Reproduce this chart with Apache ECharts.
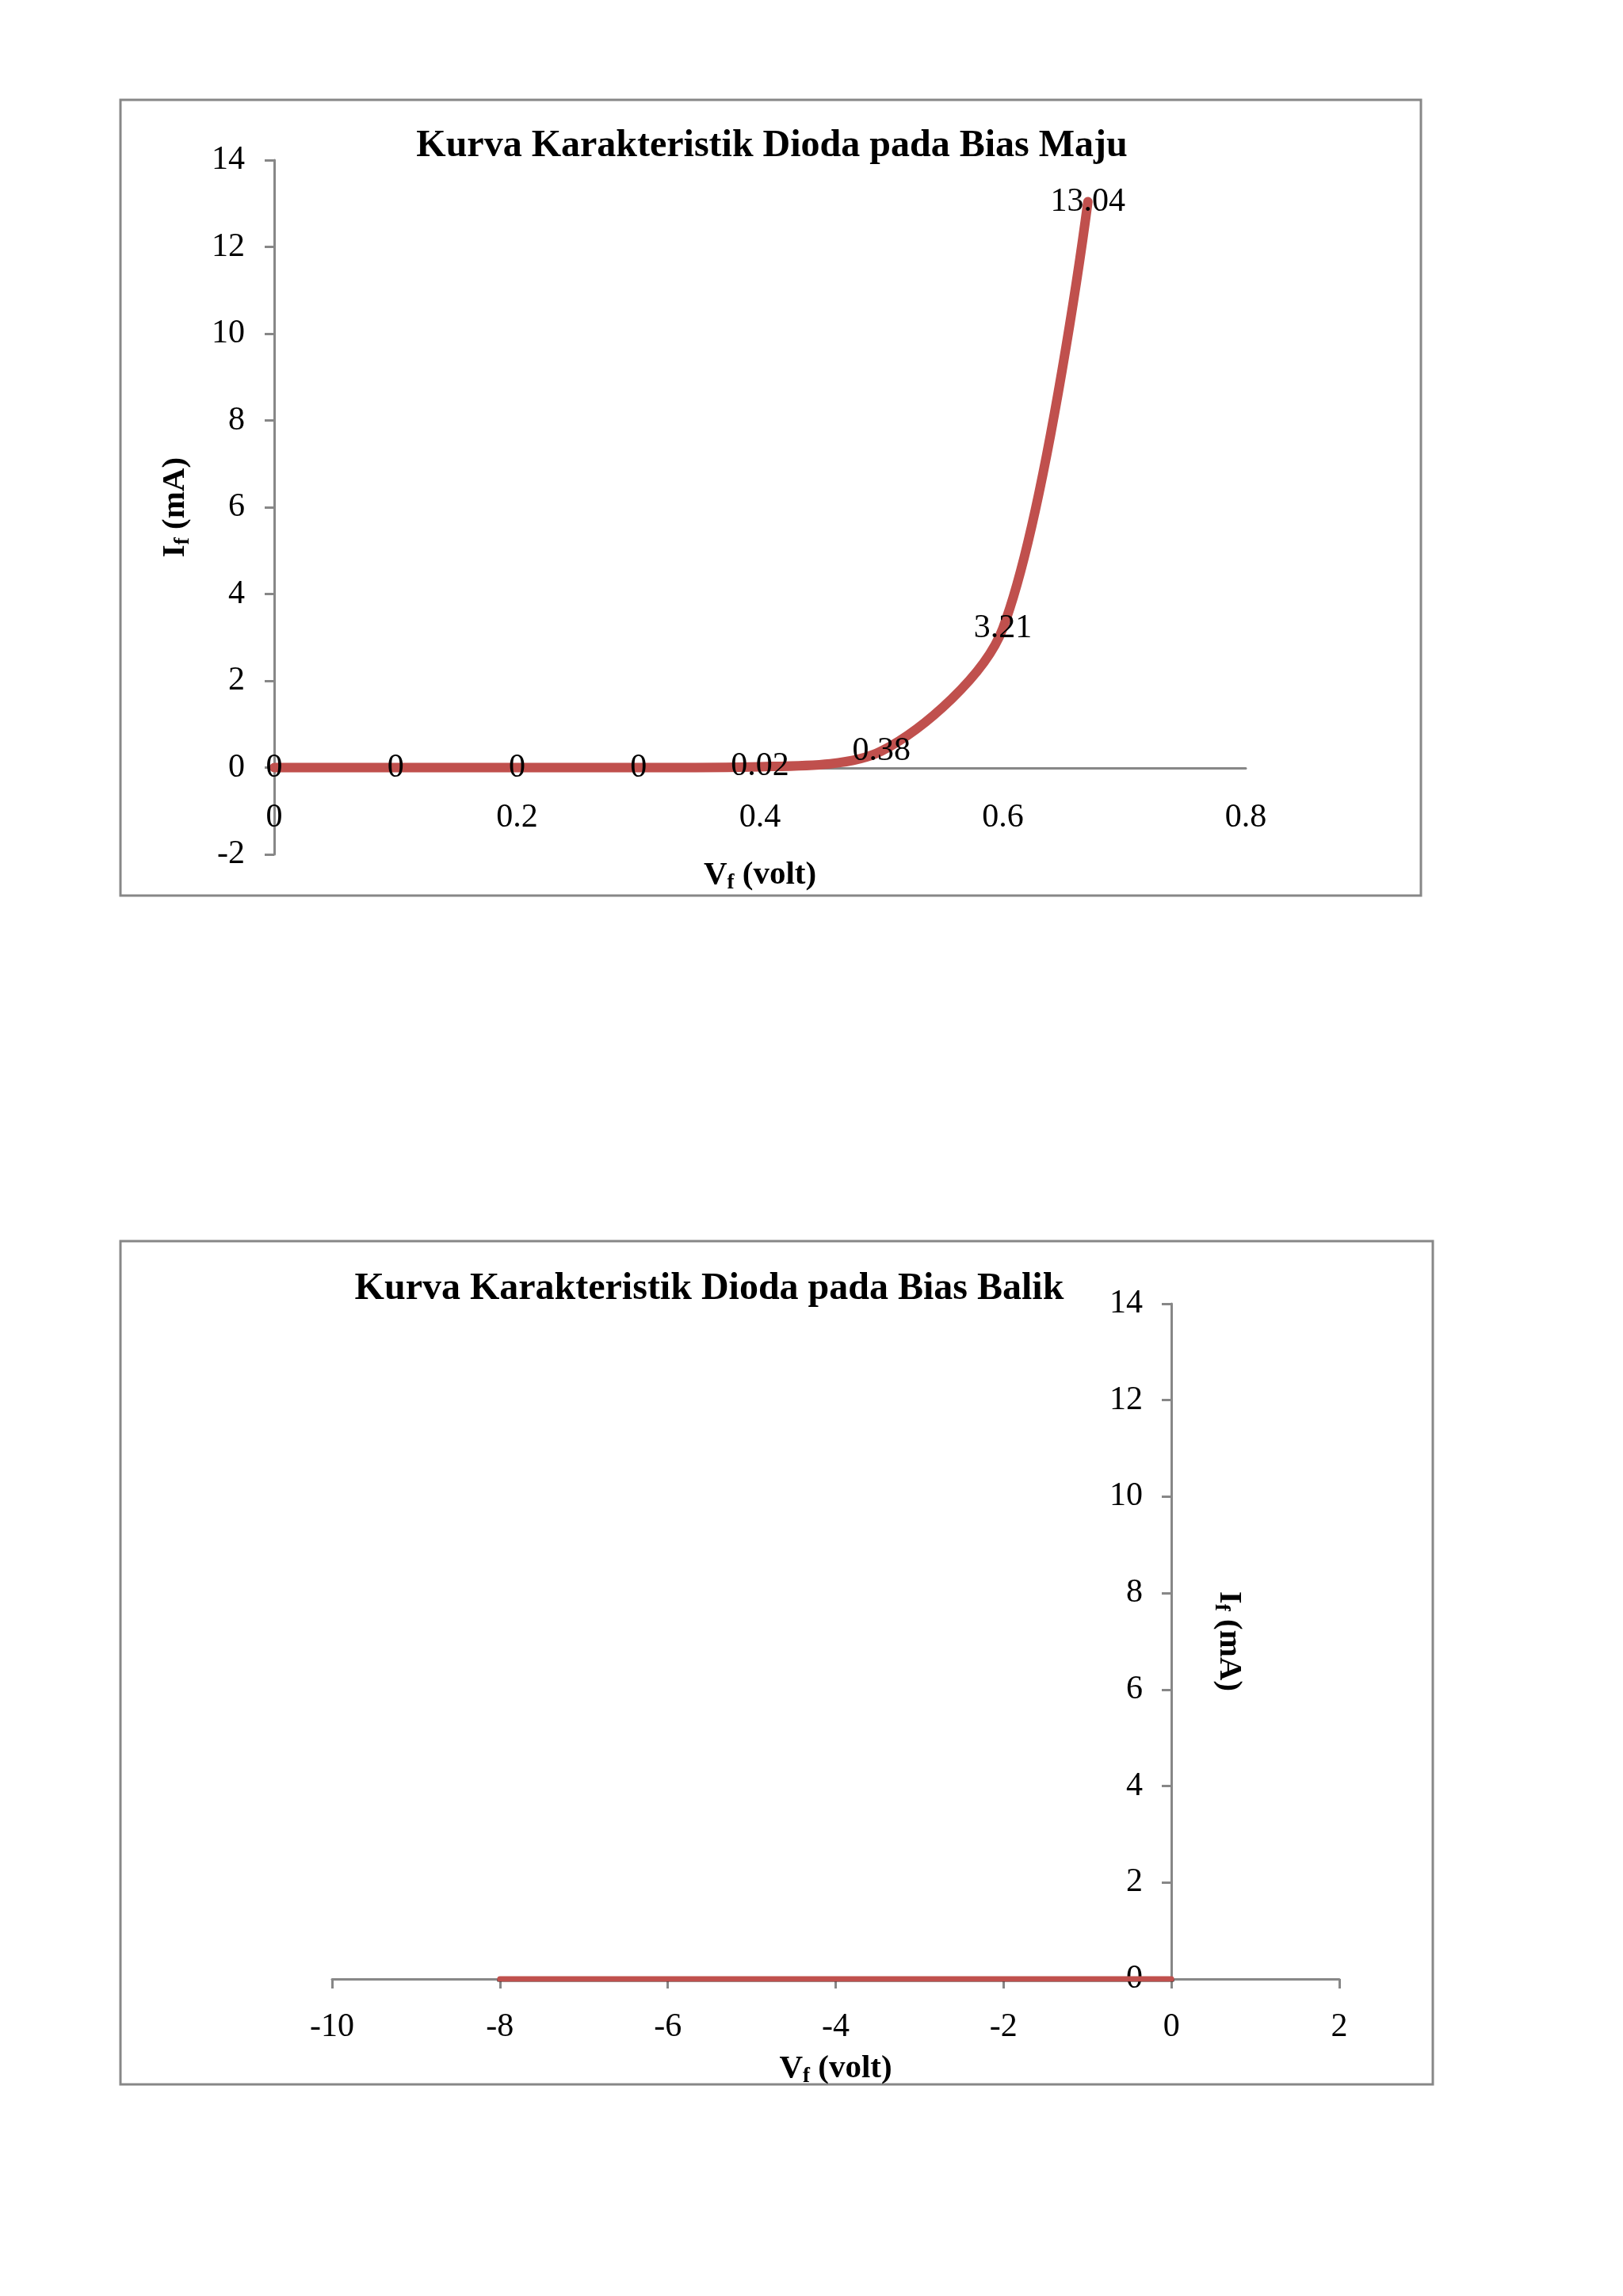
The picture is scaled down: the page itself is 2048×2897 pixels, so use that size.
<!DOCTYPE html>
<html>
<head>
<meta charset="utf-8">
<script src="https://cdn.jsdelivr.net/npm/echarts@6/dist/echarts.min.js"></script>
<style>
  html, body { margin: 0; padding: 0; background: #fff; }
  #chart { width: 2048px; height: 2897px; }
</style>
</head>
<body>
<div id="chart"></div>
<script>
// bias maju (forward)
var majuV = [0, 0.1, 0.2, 0.3, 0.4, 0.5, 0.6, 0.67]
var majuI = [0, 0, 0, 0, 0.02, 0.38, 3.21, 13.04]
// bias balik (reverse)
var balikV = [-8, -6, -4, -2, 0]
var balikI = [0, 0, 0, 0, 0]

var titles = ['Kurva Karakteristik Dioda pada Bias Maju', 'Kurva Karakteristik Dioda pada Bias Balik']

var FONT = '"Liberation Serif", "Times New Roman", serif'
var RED = '#C0504D'
var GRAY = '#878787'

var nameRich = {
  m: { fontFamily: FONT, fontSize: 41, fontWeight: 'bold', color: '#000' },
  s: { fontFamily: FONT, fontSize: 27, fontWeight: 'bold', color: '#000', padding: [20, 0, 0, 0] }
}

function toPairs (xs, ys) {
  return xs.map(function (x, i) { return [x, ys[i]] })
}

var axisText = { fontFamily: FONT, fontSize: 42, color: '#000' }

var option = {
  backgroundColor: '#fff',
  animation: false,
  title: [
    { text: titles[0], left: 974, top: 161, textAlign: 'center', padding: 0,
      textStyle: { fontFamily: FONT, fontSize: 48, fontWeight: 'bold', color: '#000' } },
    { text: titles[1], left: 895, top: 1603, textAlign: 'center', padding: 0,
      textStyle: { fontFamily: FONT, fontSize: 48, fontWeight: 'bold', color: '#000' } }
  ],
  graphic: [
    { type: 'rect', shape: { x: 152, y: 126, width: 1641, height: 1004 },
      style: { fill: 'none', stroke: GRAY, lineWidth: 3 }, z: -1 },
    { type: 'rect', shape: { x: 152, y: 1566, width: 1656, height: 1064 },
      style: { fill: 'none', stroke: GRAY, lineWidth: 3 }, z: -1 }
  ],
  grid: [
    { left: 346, right: 476, top: 202, bottom: 1819 },
    { left: 419, right: 358, top: 1645, bottom: 400 }
  ],
  xAxis: [
    {
      // axis line sits at I = 0, i.e. 109px above the grid bottom (I = -2)
      gridIndex: 0, type: 'value', min: 0, max: 0.8, interval: 0.2,
      position: 'bottom', offset: -109,
      name: '{m|V}{s|f}{m| (volt)}', nameLocation: 'middle', nameGap: 112, nameMoveOverlap: false,
      nameTextStyle: { rich: nameRich },
      axisLine: { onZero: false, lineStyle: { color: GRAY, width: 3 } },
      axisTick: { show: false },
      axisLabel: Object.assign({ margin: 42 }, axisText),
      splitLine: { show: false }
    },
    {
      gridIndex: 1, type: 'value', min: -10, max: 2, interval: 2,
      position: 'bottom',
      name: '{m|V}{s|f}{m| (volt)}', nameLocation: 'middle', nameGap: 90, nameMoveOverlap: false,
      nameTextStyle: { rich: nameRich },
      axisLine: { onZero: false, lineStyle: { color: GRAY, width: 3 } },
      axisTick: { show: true, length: 12, lineStyle: { color: GRAY, width: 3 } },
      axisLabel: Object.assign({ margin: 40 }, axisText),
      splitLine: { show: false }
    }
  ],
  yAxis: [
    {
      gridIndex: 0, type: 'value', min: -2, max: 14, interval: 2,
      position: 'left',
      name: '{m|I}{s|f}{m| (mA)}', nameLocation: 'middle', nameGap: 101, nameRotate: 90, nameMoveOverlap: false,
      nameTextStyle: { rich: nameRich },
      axisLine: { show: true, onZero: false, lineStyle: { color: GRAY, width: 3 } },
      axisTick: { show: true, length: 12, lineStyle: { color: GRAY, width: 3 } },
      axisLabel: Object.assign({ margin: 37 }, axisText),
      splitLine: { show: false }
    },
    {
      // axis line sits at V = 0, 1059px right of the grid left edge (V = -10)
      gridIndex: 1, type: 'value', min: 0, max: 14, interval: 2,
      position: 'left', offset: -1059,
      name: '{m|I}{s|f}{m| (mA)}', nameLocation: 'middle', nameGap: -96, nameRotate: -90, nameMoveOverlap: false,
      nameTextStyle: { rich: nameRich },
      axisLine: { show: true, onZero: false, lineStyle: { color: GRAY, width: 3 } },
      axisTick: { show: true, length: 12, lineStyle: { color: GRAY, width: 3 } },
      axisLabel: Object.assign({ margin: 36 }, axisText),
      splitLine: { show: false }
    }
  ],
  series: [
    {
      type: 'line', xAxisIndex: 0, yAxisIndex: 0,
      data: toPairs(majuV, majuI),
      smooth: 0.3,
      showSymbol: true, symbol: 'circle', symbolSize: 2,
      itemStyle: { color: RED, opacity: 0 },
      lineStyle: { color: RED, width: 12, cap: 'round', join: 'round' },
      label: {
        show: true, position: 'inside', opacity: 1,
        fontFamily: FONT, fontSize: 42, color: '#000',
        formatter: function (p) { return String(p.value[1]) }
      },
      z: 3
    },
    {
      type: 'line', xAxisIndex: 1, yAxisIndex: 1,
      data: toPairs(balikV, balikI),
      showSymbol: false, symbol: 'none',
      lineStyle: { color: RED, width: 7, cap: 'round',
        shadowColor: 'rgba(0,0,0,0.85)', shadowBlur: 0, shadowOffsetY: 2 },
      z: 1
    }
  ]
}

var chart = echarts.init(document.getElementById('chart'))
chart.setOption(option)
</script>
</body>
</html>
